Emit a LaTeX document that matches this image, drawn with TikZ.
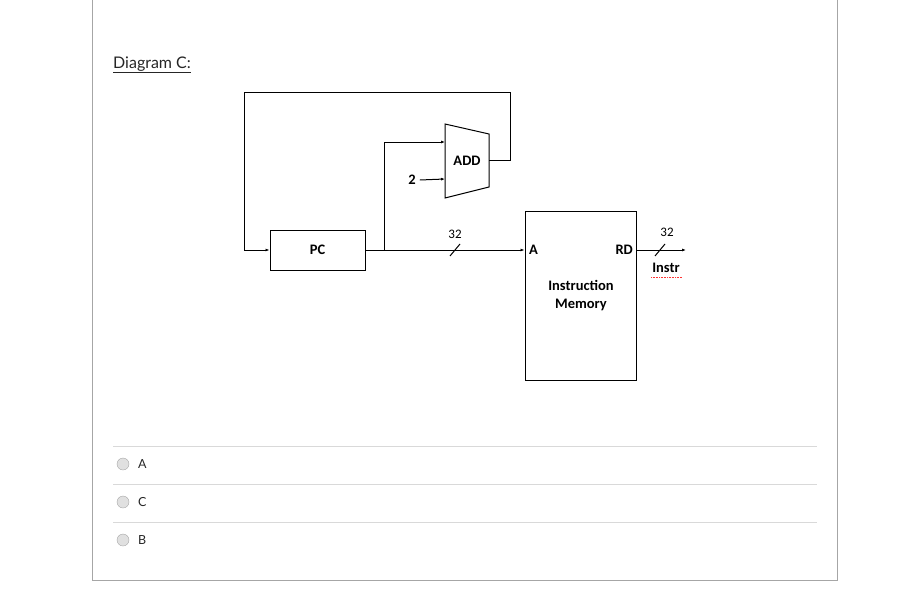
\documentclass[tikz,border=0pt]{standalone}
\usepackage{fontspec}
\setmainfont{Lato}
\newfontfamily\carlitofont{Carlito}
\usetikzlibrary{arrows.meta}
\begin{document}
\begin{tikzpicture}[x=1pt,y=-1pt,
  wire/.style={line width=1pt},
  arr/.style={wire,-{Latex[length=4pt,width=3pt]}},
  lbl/.style={font=\carlitofont\bfseries\fontsize{14.5}{17}\selectfont,inner sep=0pt},
  sm/.style={font=\carlitofont\fontsize{13}{15}\selectfont,inner sep=0pt},
  opt/.style={font=\fontsize{12.5}{14}\selectfont,inner sep=0pt,anchor=west,text=black!85},
  radio/.style={circle,draw=black!35,fill=black!12,minimum size=12pt,inner sep=0pt}]
\useasboundingbox (0,0) rectangle (909,607);
\draw[black!35,line width=0.8pt] (92,0) -- (92,580) -- (837,580) -- (837,0);
\node[anchor=west,inner sep=0pt,font=\fontsize{16}{19}\selectfont,text=black!85] (title) at (113,65) {\underline{Diagram C:}};
% PC
\node[draw,wire,minimum width=95pt,minimum height=40pt,lbl] (pc) at (317.5,250) {PC};
% memory
\node[draw,wire,minimum width=111pt,minimum height=169pt] (mem) at (580.5,295.5) {};
\node[lbl,align=center] (memtxt) at (581,296) {Instruction\\[1pt]Memory};
\node[lbl,anchor=west] (A) at (529,250) {A};
\node[lbl,anchor=east] (RD) at (633,250) {RD};
% adder
\draw[wire] (445,124) coordinate (ad1) -- (489,134) -- (489,187) -- (445,198) -- cycle;
\node[lbl] (add) at (467,161) {ADD};
\coordinate (addout) at (489,160);
\coordinate (addin1) at (445,142);
\coordinate (addin2) at (445,179);
\node[lbl] (two) at (412,180) {2};
\draw[arr] (two.east)++(4,0) -- (addin2);
% wires
\coordinate (split) at (384,250);
\draw[arr] (pc.east) -- (mem.west |- pc.east);
\draw[arr] (split) -- (384,142) -- (addin1);
\draw[arr] (addout) -- (510,160) -- (510,93) -- (244,93) -- (244,250) -- (pc.west);
\draw[wire] (450,256) -- (460,244);
\node[sm] (w1) at (455,234) {32};
\coordinate (out) at (686,250);
\draw[arr] (mem.east |- pc.east) -- (out);
\draw[wire] (655,256) -- (665,244);
\node[sm] (w2) at (667,232) {32};
\node[lbl] (instr) at (666,268) {Instr};
\draw[red!80,line width=0.3pt,dash pattern=on 1pt off 0.6pt] (651,277) -- (682,277);
% options
\foreach \y in {446,484,522} \draw[black!15,line width=0.8pt] (113,\y) -- (817,\y);
\node[radio] (r1) at (123,464) {};
\node[radio] (r2) at (123,502) {};
\node[radio] (r3) at (123,540) {};
\node[opt] (o1) at (138,464) {A};
\node[opt] (o2) at (138,502) {C};
\node[opt] (o3) at (138,540) {B};
\end{tikzpicture}
\end{document}
